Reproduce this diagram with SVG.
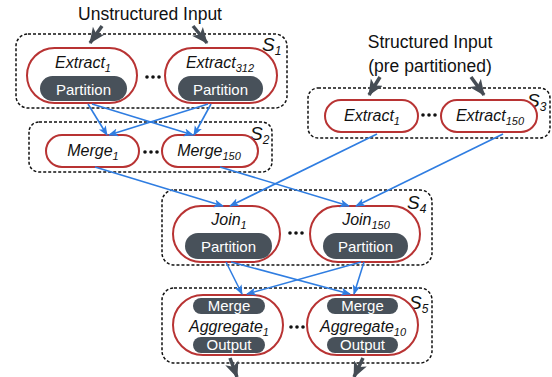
<svg xmlns="http://www.w3.org/2000/svg" width="552" height="377" viewBox="0 0 552 377">
<defs>
<marker id="blue" markerUnits="userSpaceOnUse" markerWidth="10" markerHeight="10" viewBox="0 0 10 10" refX="9" refY="5" orient="auto"><path d="M0,1 L10,5 L0,9 L2.5,5 Z" fill="#2f7de1"/></marker>
<marker id="gray" markerUnits="userSpaceOnUse" markerWidth="16" markerHeight="16" viewBox="0 0 16 16" refX="15" refY="8" orient="auto"><path d="M0,1 L16,8 L0,15 L4,8 Z" fill="#454c54"/></marker>
<style>
.grp{fill:none;stroke:#111;stroke-width:1.5;stroke-dasharray:3 2}
.node{fill:#fff;stroke:#b83333;stroke-width:2}
.pill{fill:#48515a}
.lab{font-family:"Liberation Sans",Arial,sans-serif;font-style:italic;font-size:16px;fill:#111;text-anchor:middle}
.pt{font-family:"Liberation Sans",Arial,sans-serif;font-size:15px;fill:#fff;text-anchor:middle}
.big{font-family:"Liberation Sans",Arial,sans-serif;font-size:17.5px;fill:#111;text-anchor:middle}
.sl{font-family:"Liberation Sans",Arial,sans-serif;font-style:italic;font-size:19px;fill:#111}
.sub{font-size:11px}
.ssub{font-size:12px}
.bl{stroke:#2f7de1;stroke-width:1.6;fill:none;marker-end:url(#blue)}
.gr{stroke:#454c54;stroke-width:3.5;fill:none;marker-end:url(#gray)}
.dot{fill:#111}
</style>
</defs>

<text class="big" x="150" y="20">Unstructured Input</text>
<text class="big" x="430" y="48">Structured Input</text>
<text class="big" x="430" y="72">(pre partitioned)</text>

<g id="S1">
<rect class="grp" x="16" y="34" width="271" height="74" rx="12"/>
<text class="sl" x="262" y="51">S<tspan class="ssub" dy="4">1</tspan></text>
<g id="extract1"><rect class="node" x="27" y="48" width="110" height="55" rx="27.5"/><text class="lab" x="83" y="68">Extract<tspan class="sub" dy="4">1</tspan></text><rect class="pill" x="40" y="76" width="87" height="25" rx="12.5"/><text class="pt" x="83.5" y="95">Partition</text></g>
<g id="extract312"><rect class="node" x="165" y="48" width="112" height="55" rx="27.5"/><text class="lab" x="220" y="68">Extract<tspan class="sub" dy="4">312</tspan></text><rect class="pill" x="178" y="76" width="85" height="25" rx="12.5"/><text class="pt" x="220.5" y="95">Partition</text></g>
<circle class="dot" cx="147" cy="77" r="1.8"/><circle class="dot" cx="153" cy="77" r="1.8"/><circle class="dot" cx="159" cy="77" r="1.8"/>
</g>

<g id="S2">
<rect class="grp" x="29" y="122" width="243" height="50" rx="10"/>
<text class="sl" x="250" y="140">S<tspan class="ssub" dy="4">2</tspan></text>
<g id="merge1"><rect class="node" x="46" y="135" width="93" height="32" rx="16"/><text class="lab" x="93" y="156">Merge<tspan class="sub" dy="4">1</tspan></text></g>
<g id="merge150"><rect class="node" x="162" y="135" width="96" height="32" rx="16"/><text class="lab" x="209" y="156">Merge<tspan class="sub" dy="4">150</tspan></text></g>
<circle class="dot" cx="145" cy="152" r="1.8"/><circle class="dot" cx="151" cy="152" r="1.8"/><circle class="dot" cx="157" cy="152" r="1.8"/>
</g>

<g id="S3">
<rect class="grp" x="308" y="88" width="242" height="50" rx="10"/>
<text class="sl" x="527" y="107">S<tspan class="ssub" dy="4">3</tspan></text>
<g id="sextract1"><rect class="node" x="325" y="100" width="93" height="32" rx="16"/><text class="lab" x="372" y="121">Extract<tspan class="sub" dy="4">1</tspan></text></g>
<g id="sextract150"><rect class="node" x="441" y="100" width="96" height="32" rx="16"/><text class="lab" x="490" y="121">Extract<tspan class="sub" dy="4">150</tspan></text></g>
<circle class="dot" cx="423" cy="115" r="1.8"/><circle class="dot" cx="429" cy="115" r="1.8"/><circle class="dot" cx="435" cy="115" r="1.8"/>
</g>

<g id="S4">
<rect class="grp" x="162" y="190" width="270" height="75" rx="12"/>
<text class="sl" x="407" y="209">S<tspan class="ssub" dy="4">4</tspan></text>
<g id="join1"><rect class="node" x="173" y="206" width="107" height="56" rx="28"/><text class="lab" x="229" y="225">Join<tspan class="sub" dy="4">1</tspan></text><rect class="pill" x="185" y="233" width="87" height="26" rx="13"/><text class="pt" x="228.5" y="252">Partition</text></g>
<g id="join150"><rect class="node" x="310" y="206" width="110" height="56" rx="28"/><text class="lab" x="366" y="225">Join<tspan class="sub" dy="4">150</tspan></text><rect class="pill" x="323" y="233" width="85" height="26" rx="13"/><text class="pt" x="365.5" y="252">Partition</text></g>
<circle class="dot" cx="290" cy="233" r="1.8"/><circle class="dot" cx="296" cy="233" r="1.8"/><circle class="dot" cx="302" cy="233" r="1.8"/>
</g>

<g id="S5">
<rect class="grp" x="162" y="288" width="270" height="75" rx="12"/>
<text class="sl" x="409" y="309">S<tspan class="ssub" dy="4">5</tspan></text>
<g id="agg1"><rect class="node" x="173" y="295" width="110" height="60" rx="30"/><rect class="pill" x="193" y="298" width="72" height="16" rx="8"/><text class="pt" x="229" y="311">Merge</text><text class="lab" x="229" y="332">Aggregate<tspan class="sub" dy="4">1</tspan></text><rect class="pill" x="193" y="337" width="72" height="16" rx="8"/><text class="pt" x="229" y="350">Output</text></g>
<g id="agg10"><rect class="node" x="307" y="295" width="111" height="60" rx="30"/><rect class="pill" x="327" y="298" width="71" height="16" rx="8"/><text class="pt" x="362.5" y="311">Merge</text><text class="lab" x="363" y="332">Aggregate<tspan class="sub" dy="4">10</tspan></text><rect class="pill" x="327" y="337" width="71" height="16" rx="8"/><text class="pt" x="362.5" y="350">Output</text></g>
<circle class="dot" cx="291" cy="327" r="1.8"/><circle class="dot" cx="297" cy="327" r="1.8"/><circle class="dot" cx="303" cy="327" r="1.8"/>
</g>

<g id="connectors">
<line class="gr" x1="102" y1="26" x2="90" y2="43"/>
<line class="gr" x1="193" y1="26" x2="207" y2="43"/>
<line class="gr" x1="380" y1="77" x2="369" y2="95"/>
<line class="gr" x1="471" y1="77" x2="484" y2="95"/>
<line class="gr" x1="230" y1="358" x2="237" y2="377"/>
<line class="gr" x1="363" y1="358" x2="354" y2="377"/>

<line class="bl" x1="88" y1="104" x2="107" y2="135"/>
<line class="bl" x1="92" y1="104" x2="193" y2="135"/>
<line class="bl" x1="208" y1="104" x2="109" y2="135"/>
<line class="bl" x1="211" y1="104" x2="194" y2="135"/>

<line class="bl" x1="95" y1="167" x2="223" y2="206"/>
<line class="bl" x1="377" y1="134" x2="230" y2="206"/>
<line class="bl" x1="220" y1="167" x2="349" y2="206"/>
<line class="bl" x1="503" y1="134" x2="356" y2="206"/>

<line class="bl" x1="226" y1="262" x2="242" y2="294"/>
<line class="bl" x1="231" y1="262" x2="350" y2="294"/>
<line class="bl" x1="361" y1="262" x2="247" y2="294"/>
<line class="bl" x1="364" y1="262" x2="354" y2="294"/>
</g>
</svg>
